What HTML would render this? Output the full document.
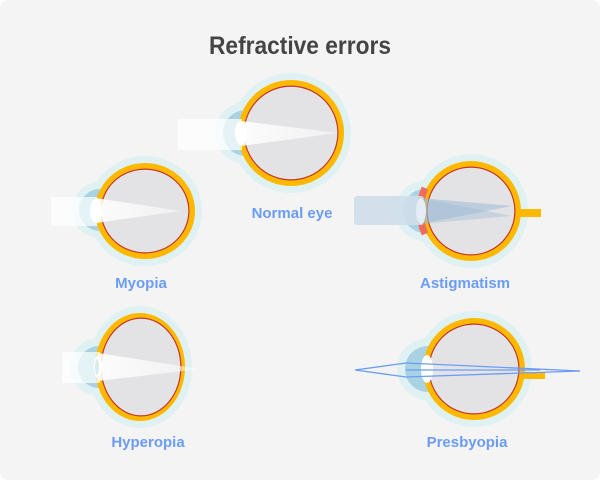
<!DOCTYPE html>
<html><head><style>
html,body{margin:0;padding:0;background:#fff;}
svg{display:block;}
text{font-family:"Liberation Sans",sans-serif;font-weight:bold;}
</style></head><body>
<svg width="600" height="480" viewBox="0 0 600 480" xmlns="http://www.w3.org/2000/svg">
<defs>
<linearGradient id="cone" x1="0" x2="1" y1="0" y2="0">
<stop offset="0" stop-color="#fff" stop-opacity="0.9"/><stop offset="1" stop-color="#fff" stop-opacity="0.45"/>
</linearGradient>
</defs>
<rect x="0" y="0" width="600" height="480" rx="9" fill="#f4f4f4"/>
<text x="300" y="54" text-anchor="middle" font-size="25" fill="#444" textLength="182" lengthAdjust="spacingAndGlyphs">Refractive errors</text>

<!-- Normal eye -->
<g>
<circle cx="246" cy="133" r="31" fill="#dff1f2"/>
<circle cx="291" cy="133" r="60" fill="#dff1f2"/>
<circle cx="246" cy="133" r="23" fill="#a9d2e2"/>
<circle cx="291" cy="133" r="53" fill="#ffb800"/>
<circle cx="291" cy="133" r="47.5" fill="#c5352a"/>
<circle cx="291" cy="133" r="46.3" fill="#e3e3e6"/>
<rect x="178" y="119" width="64" height="31" fill="#fff" opacity="0.7"/>
<polygon points="241,121 338,133 241,146" fill="url(#cone)"/>
<ellipse cx="241" cy="133" rx="6" ry="12" fill="#fff"/>
</g>
<text x="292" y="218" text-anchor="middle" font-size="15" fill="#6b9cf6">Normal eye</text>

<!-- Myopia -->
<g>
<circle cx="100" cy="210" r="28" fill="#dff1f2"/>
<ellipse cx="145" cy="211" rx="57" ry="55" fill="#dff1f2"/>
<circle cx="100" cy="210" r="21" fill="#a9d2e2"/>
<ellipse cx="145" cy="211" rx="50" ry="48" fill="#ffb800"/>
<ellipse cx="145" cy="211" rx="44.5" ry="42.5" fill="#c5352a"/>
<ellipse cx="145" cy="211" rx="43.3" ry="41.3" fill="#e3e3e6"/>
<rect x="51" y="197" width="46" height="29" fill="#fff" opacity="0.7"/>
<polygon points="96,198 180,211 96,223" fill="url(#cone)"/>
<ellipse cx="96" cy="211" rx="6" ry="12" fill="#fff"/>
</g>
<text x="141" y="288" text-anchor="middle" font-size="15" fill="#6b9cf6">Myopia</text>

<!-- Astigmatism -->
<g>
<circle cx="425" cy="211" r="30" fill="#dff1f2"/>
<circle cx="471" cy="211" r="57" fill="#dff1f2"/>
<rect x="515" y="209" width="26" height="8" fill="#ffb800"/>
<circle cx="425" cy="211" r="22" fill="#a9d2e2"/>
<circle cx="471" cy="211" r="50" fill="#ffb800"/>
<circle cx="471" cy="211" r="44.5" fill="#c5352a"/>
<circle cx="471" cy="211" r="43.3" fill="#e3e3e6"/>
<path d="M425,188 Q415,211 425,234" stroke="#f06a60" stroke-width="7" fill="none"/>
<rect x="354" y="196" width="70" height="29" rx="3" fill="#cfdeea" opacity="0.9"/>
<polygon points="420,198 512,206 420,224" fill="#9ab8d3" opacity="0.5"/>
<polygon points="420,198 512,216 420,224" fill="#9ab8d3" opacity="0.4"/>
<ellipse cx="421" cy="211" rx="5" ry="13" fill="#e4ecf4"/>
</g>
<text x="465" y="288" text-anchor="middle" font-size="15" fill="#6b9cf6">Astigmatism</text>

<!-- Hyperopia -->
<g>
<circle cx="99" cy="367" r="29" fill="#dff1f2"/>
<ellipse cx="140" cy="367" rx="52" ry="61" fill="#dff1f2"/>
<circle cx="99" cy="367" r="21" fill="#a9d2e2"/>
<ellipse cx="140" cy="367" rx="45" ry="54" fill="#ffb800"/>
<ellipse cx="141" cy="367" rx="40.5" ry="49.5" fill="#c5352a"/>
<ellipse cx="141" cy="367" rx="39.3" ry="48.3" fill="#e3e3e6"/>
<rect x="62" y="352" width="38" height="31" fill="#fff" opacity="0.7"/>
<polygon points="98,353 200,369 98,381" fill="url(#cone)"/>
<ellipse cx="98" cy="367" rx="4" ry="11" fill="#fff"/>
<ellipse cx="97" cy="367" rx="2" ry="8" fill="#d8ecf0"/>
</g>
<text x="148" y="447" text-anchor="middle" font-size="15" fill="#6b9cf6">Hyperopia</text>

<!-- Presbyopia -->
<g>
<circle cx="428" cy="369" r="31" fill="#dff1f2"/>
<circle cx="474" cy="369" r="58" fill="#dff1f2"/>
<rect x="518" y="372" width="27" height="7" fill="#ffb800"/>
<circle cx="428" cy="369" r="23" fill="#a9d2e2"/>
<circle cx="474" cy="369" r="51" fill="#ffb800"/>
<circle cx="474" cy="369" r="45.5" fill="#c5352a"/>
<circle cx="474" cy="369" r="44.3" fill="#e3e3e6"/>
<ellipse cx="427" cy="369" rx="6" ry="14" fill="#fff"/>
<g stroke="#6b9cf6" stroke-width="1.3" fill="none">
<polyline points="355,370 406,363 580,371"/>
<polyline points="355,370 406,377 580,371"/>
<line x1="406" y1="370" x2="540" y2="370"/>
</g>
</g>
<text x="467" y="447" text-anchor="middle" font-size="15" fill="#6b9cf6">Presbyopia</text>
</svg>
</body></html>
